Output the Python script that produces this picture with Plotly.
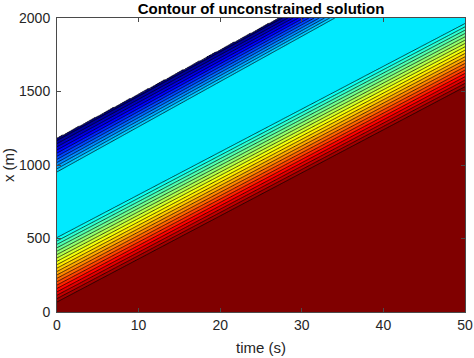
import numpy as np
import plotly.graph_objects as go

# ---- data ----
# profile knot positions x (m) at t = 0 s and at t = 50 s, with their solution values
knot_x_t0 = [0.0, 45.0, 510.0, 935.0, 1185.0, 1186.0, 5000.0]
knot_x_t50 = [0.0, 1510.0, 1966.0, 2475.0, 2690.0, 2691.0, 5000.0]
knot_values = [1.0, 1.0, 0.37, 0.37, 0.004, -1.0, -1.0]

time_s = np.linspace(0, 50, 201)
x_m = np.linspace(0, 2000, 501)

x_ticks = [0, 10, 20, 30, 40, 50]
y_ticks = [0, 500, 1000, 1500, 2000]

n_levels = 32
level_size = 1.0 / n_levels

# ---- build field ----
k0 = np.array(knot_x_t0)
k50 = np.array(knot_x_t50)
vals = np.array(knot_values)
Z = np.empty((len(x_m), len(time_s)))
for j, t in enumerate(time_s):
    kt = k0 + (k50 - k0) * (t / 50.0)
    kt[0] = 0.0
    Z[:, j] = np.interp(x_m, kt, vals)


def jet(v):
    r = np.clip(1.5 - abs(4 * v - 3), 0, 1)
    g = np.clip(1.5 - abs(4 * v - 2), 0, 1)
    b = np.clip(1.5 - abs(4 * v - 1), 0, 1)
    return f"rgb({int(round(r*255))},{int(round(g*255))},{int(round(b*255))})"


# stepped colorscale: position 0 -> white (below first level), then jet bands
cs = [[0.0, "white"], [0.5 / n_levels, "white"]]
for k in range(n_levels):
    c = jet(k / (n_levels - 1))
    lo = (k + 0.5) / n_levels
    hi = min((k + 1.5) / n_levels, 1.0)
    cs.append([lo, c])
    cs.append([hi, c])

fig = go.Figure(
    go.Contour(
        x=time_s,
        y=x_m,
        z=Z,
        colorscale=cs,
        showscale=False,
        contours=dict(start=0.0, end=1.0 - level_size, size=level_size, coloring="fill"),
        line=dict(color="black", width=0.7),
        hoverinfo="skip",
    )
)

FONT = "Liberation Sans, Arial"
axis_common = dict(
    showgrid=False,
    zeroline=False,
    showline=True,
    linecolor="#4a4a4a",
    linewidth=1,
    mirror="ticks",
    ticks="inside",
    ticklen=4,
    tickcolor="#4a4a4a",
    automargin=False,
    tickfont=dict(family=FONT, size=14, color="#262626"),
)

fig.update_layout(
    width=474,
    height=358,
    margin=dict(l=57, r=9, t=18, b=46),
    paper_bgcolor="white",
    plot_bgcolor="white",
    title=dict(
        text="<b>Contour of unconstrained solution</b>",
        x=261 / 474,
        xanchor="center",
        xref="container",
        y=1 - 8.5 / 358,
        yref="container",
        yanchor="middle",
        font=dict(family=FONT, size=15, color="black"),
    ),
    xaxis=dict(
        axis_common,
        range=[0, 50],
        tickvals=x_ticks,
        title=dict(text="time (s)", standoff=10,
                   font=dict(family=FONT, size=15, color="#262626")),
    ),
    yaxis=dict(
        axis_common,
        range=[0, 2000],
        tickvals=y_ticks,
        ticklabelstandoff=3,
        title=dict(text="x (m)", standoff=5,
                   font=dict(family=FONT, size=15, color="#262626")),
    ),
)

fig.write_html(
    "out.html",
    config={"displayModeBar": False},
    post_script="document.body.style.margin='0';document.body.style.overflow='hidden';",
)
